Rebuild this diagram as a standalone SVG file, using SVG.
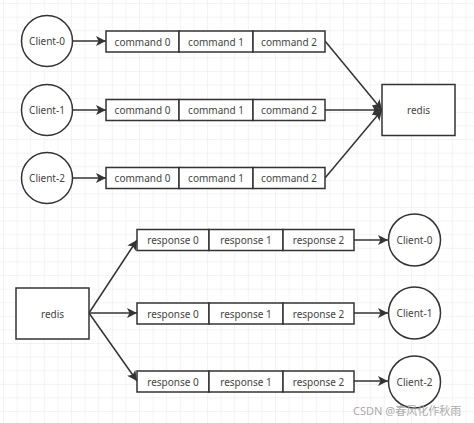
<svg xmlns="http://www.w3.org/2000/svg" width="474" height="423" viewBox="0 0 474 423">
<defs>
<pattern id="grid" x="4" y="4" width="13.6" height="13.6" patternUnits="userSpaceOnUse">
<path d="M13.6 0V13.6M0 13.6H13.6" fill="none" stroke="#e8e8e8" stroke-width="1"/>
</pattern>
<marker id="arr" viewBox="0 0 10 10" refX="10" refY="5" markerWidth="10" markerHeight="10" markerUnits="userSpaceOnUse" orient="auto">
<path d="M0 0L10 5L0 10L2.5 5Z" fill="#333"/>
</marker>
</defs>
<style>
.n{fill:#fff;stroke:#333;stroke-width:1.5}
.t{font-family:"Noto Sans","Open Sans",sans-serif;font-size:10px;fill:#444;text-anchor:middle;dominant-baseline:central}
.c{stroke:#333;stroke-width:1.5;fill:none;marker-end:url(#arr)}
.w{font-family:"Noto Sans","Noto Sans CJK SC",sans-serif;font-size:11px;fill:#aaa}
</style>
<rect width="474" height="423" fill="#fff"/>
<rect width="474" height="423" fill="url(#grid)"/>

<g id="connectors">
<line class="c" x1="73" y1="41" x2="106" y2="41"/>
<line class="c" x1="73" y1="110" x2="106" y2="110"/>
<line class="c" x1="73" y1="178" x2="106" y2="178"/>
<line class="c" x1="325" y1="41" x2="382" y2="110"/>
<line class="c" x1="325" y1="110" x2="382" y2="110"/>
<line class="c" x1="325" y1="178" x2="382" y2="110"/>
<line class="c" x1="89" y1="313" x2="137" y2="240"/>
<line class="c" x1="89" y1="313" x2="137" y2="313"/>
<line class="c" x1="89" y1="313" x2="137" y2="381"/>
<line class="c" x1="354" y1="240" x2="388" y2="240"/>
<line class="c" x1="354" y1="313" x2="388" y2="313"/>
<line class="c" x1="354" y1="381" x2="388" y2="381"/>
</g>

<g id="client0-in"><circle class="n" cx="47" cy="41" r="25.5"/><text class="t" x="47" y="41">Client-0</text></g>
<g id="client1-in"><circle class="n" cx="47" cy="110" r="25.5"/><text class="t" x="47" y="110">Client-1</text></g>
<g id="client2-in"><circle class="n" cx="47" cy="178" r="25.5"/><text class="t" x="47" y="178">Client-2</text></g>

<g id="queue0">
<rect class="n" x="106" y="31" width="73" height="21"/><text class="t" x="142.5" y="41.5">command 0</text>
<rect class="n" x="179" y="31" width="74" height="21"/><text class="t" x="216" y="41.5">command 1</text>
<rect class="n" x="253" y="31" width="72" height="21"/><text class="t" x="289" y="41.5">command 2</text>
</g>
<g id="queue1">
<rect class="n" x="106" y="99.5" width="73" height="21"/><text class="t" x="142.5" y="110">command 0</text>
<rect class="n" x="179" y="99.5" width="74" height="21"/><text class="t" x="216" y="110">command 1</text>
<rect class="n" x="253" y="99.5" width="72" height="21"/><text class="t" x="289" y="110">command 2</text>
</g>
<g id="queue2">
<rect class="n" x="106" y="167.5" width="73" height="21"/><text class="t" x="142.5" y="178">command 0</text>
<rect class="n" x="179" y="167.5" width="74" height="21"/><text class="t" x="216" y="178">command 1</text>
<rect class="n" x="253" y="167.5" width="72" height="21"/><text class="t" x="289" y="178">command 2</text>
</g>

<g id="redis-top"><rect class="n" x="382" y="84.5" width="73" height="51"/><text class="t" x="418.5" y="110">redis</text></g>
<g id="redis-bottom"><rect class="n" x="16" y="288" width="73" height="51"/><text class="t" x="52.5" y="313.5">redis</text></g>

<g id="resp0">
<rect class="n" x="137" y="229.5" width="72" height="21"/><text class="t" x="173" y="240">response 0</text>
<rect class="n" x="209" y="229.5" width="74" height="21"/><text class="t" x="246" y="240">response 1</text>
<rect class="n" x="283" y="229.5" width="71" height="21"/><text class="t" x="318.5" y="240">response 2</text>
</g>
<g id="resp1">
<rect class="n" x="137" y="303" width="72" height="21"/><text class="t" x="173" y="313.5">response 0</text>
<rect class="n" x="209" y="303" width="74" height="21"/><text class="t" x="246" y="313.5">response 1</text>
<rect class="n" x="283" y="303" width="71" height="21"/><text class="t" x="318.5" y="313.5">response 2</text>
</g>
<g id="resp2">
<rect class="n" x="137" y="371" width="72" height="21"/><text class="t" x="173" y="381.5">response 0</text>
<rect class="n" x="209" y="371" width="74" height="21"/><text class="t" x="246" y="381.5">response 1</text>
<rect class="n" x="283" y="371" width="71" height="21"/><text class="t" x="318.5" y="381.5">response 2</text>
</g>

<g id="client0-out"><circle class="n" cx="414.5" cy="240" r="26"/><text class="t" x="414.5" y="240">Client-0</text></g>
<g id="client1-out"><circle class="n" cx="414.5" cy="313" r="26"/><text class="t" x="414.5" y="313">Client-1</text></g>
<g id="client2-out"><circle class="n" cx="414.5" cy="382" r="26"/><text class="t" x="414.5" y="382">Client-2</text></g>

<text class="w" x="353" y="415">CSDN @春风化作秋雨</text>
</svg>
